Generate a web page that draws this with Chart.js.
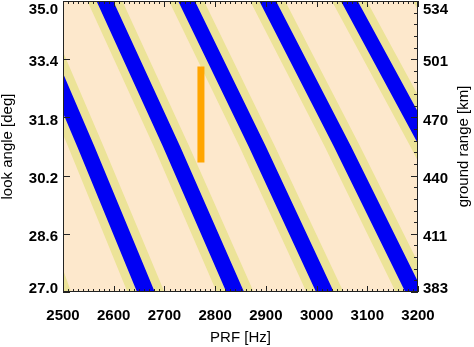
<!DOCTYPE html>
<html>
<head>
<meta charset="utf-8">
<script src="https://cdn.jsdelivr.net/npm/chart.js@4.4.1/dist/chart.umd.min.js"></script>
<style>
  html,body{margin:0;padding:0;background:#fff;}
</style>
</head>
<body>
<canvas id="c" width="474" height="347"></canvas>
<script>
// axis ticks
const X_TICKS=[2500,2600,2700,2800,2900,3000,3100,3200];
const ANGLE_TICKS=[27.0,28.6,30.2,31.8,33.4,35.0];
const RANGE_LABELS=['383','411','440','470','501','534'];

const EDGE_ANGLES=[35,31,27];
// PRF [Hz] of each band edge at 35 / 31 / 27 deg, one row per band
const GUARD_LEFT=[[2228,2342,2443],[2388,2510,2627],[2548,2679,2803],[2709,2848,2980],[2869,3016,3156],[3030,3185,3333],[3190,3353,3509]];
const BLUE_LEFT =[[2246,2360,2462],[2406,2528,2646],[2566,2697,2822],[2727,2866,2999],[2887,3034,3175],[3048,3203,3352],[3208,3371,3528]];
const BLUE_RIGHT=[[2279,2394,2497],[2439,2562,2681],[2599,2731,2857],[2760,2900,3034],[2920,3068,3210],[3081,3237,3387],[3241,3405,3563]];
const GUARD_RIGHT=[[2297,2412,2516],[2457,2580,2700],[2617,2749,2876],[2778,2918,3053],[2938,3086,3229],[3099,3255,3406],[3259,3423,3582]];

// selected PRF / look angle span
const MARK_PRF=[2772,2772];
const MARK_ANGLE=[33.2,30.56];

const PEACH='#fde8cc', KHAKI='#ece398', BLUE='#0000f4', ORANGE='#ffa500';
const FONT='"Liberation Sans", Arial, Helvetica, sans-serif';
Chart.defaults.font.family=FONT;
Chart.defaults.color='#000';

function poly(l,r){
  const down=EDGE_ANGLES.map((a,i)=>({x:l[i],y:a}));
  const up=EDGE_ANGLES.map((a,i)=>({x:r[i],y:a})).reverse();
  return down.concat(up);
}
function shiftLabel(t,i,n){
  if(i===n-1)return['','','',t];
  if(i===0)return[t,''];
  return['',t];
}

const datasets=[];
datasets.push({data:MARK_PRF.map((p,i)=>({x:p,y:MARK_ANGLE[i]})),borderColor:ORANGE,borderWidth:7,borderCapStyle:'butt',pointRadius:0,fill:false,order:0});
BLUE_LEFT.forEach((b,i)=>datasets.push({data:poly(b,BLUE_RIGHT[i]),backgroundColor:BLUE,borderWidth:0,pointRadius:0,fill:'shape',order:1}));
GUARD_LEFT.forEach((g,i)=>datasets.push({data:poly(g,GUARD_RIGHT[i]),backgroundColor:KHAKI,borderWidth:0,pointRadius:0,fill:'shape',order:2}));

const plotBg={id:'plotBg',beforeDatasetsDraw(chart){
  const {ctx,chartArea:a}=chart;
  ctx.save();ctx.fillStyle=PEACH;ctx.fillRect(a.left,a.top,a.right-a.left,a.bottom-a.top);ctx.restore();
}};

const frame={id:'frame',afterDatasetsDraw(chart){
  const {ctx,chartArea:a,scales:{x,y}}=chart;
  ctx.save();ctx.strokeStyle='#222';ctx.lineWidth=1;ctx.beginPath();
  for(let v=X_TICKS[0];v<=X_TICKS[X_TICKS.length-1];v+=10){
    const px=Math.round(x.getPixelForValue(v))+0.5;
    const len=(v%100===0)?6:3;
    ctx.moveTo(px,a.bottom);ctx.lineTo(px,a.bottom-len);
    ctx.moveTo(px,a.top);ctx.lineTo(px,a.top+len);
  }
  ANGLE_TICKS.forEach(v=>{
    const py=Math.round(y.getPixelForValue(v))+0.5;
    ctx.moveTo(a.left,py);ctx.lineTo(a.left+7,py);
    ctx.moveTo(a.right,py);ctx.lineTo(a.right-7,py);
  });
  for(let i=0;i<ANGLE_TICKS.length-1;i++){
    const st=(ANGLE_TICKS[i+1]-ANGLE_TICKS[i])/5;
    for(let k=1;k<5;k++){
      const py=Math.round(y.getPixelForValue(ANGLE_TICKS[i]+k*st))+0.5;
      ctx.moveTo(a.right,py);ctx.lineTo(a.right-4,py);
    }
  }
  ctx.stroke();
  ctx.strokeRect(a.left+0.5,a.top+0.5,a.right-a.left-1,a.bottom-a.top-1);
  // right axis title, reading bottom to top
  ctx.fillStyle='#000';ctx.font='15px '+FONT;ctx.textAlign='center';ctx.textBaseline='middle';
  ctx.translate(464,(a.top+a.bottom)/2);ctx.rotate(-Math.PI/2);
  ctx.fillText('ground range [km]',0,0);
  ctx.restore();
}};

const tickFont={size:15,weight:'bold',lineHeight:0.4};
new Chart(document.getElementById('c'),{
  type:'line',
  data:{datasets},
  options:{
    responsive:false,animation:false,
    layout:{padding:{top:1,left:0,right:0,bottom:0}},
    plugins:{legend:{display:false},tooltip:{enabled:false}},
    scales:{
      x:{type:'linear',position:'bottom',min:2500,max:3200,
        afterBuildTicks:s=>{s.ticks=X_TICKS.map(v=>({value:v}));},
        afterFit:s=>{s.height=55;},
        grid:{display:false,drawTicks:false},border:{display:false},
        ticks:{font:{size:15,weight:'bold'},padding:15,maxRotation:0,autoSkip:false,callback:v=>String(v)},
        title:{display:true,text:'PRF [Hz]',font:{size:15},padding:0}},
      y:{type:'linear',position:'left',min:27,max:35,
        afterBuildTicks:s=>{s.ticks=ANGLE_TICKS.map(v=>({value:v}));},
        afterFit:s=>{s.width=63;s.paddingTop=0;s.paddingBottom=0;},
        grid:{display:false,drawTicks:false},border:{display:false},
        ticks:{font:tickFont,padding:5,autoSkip:false,callback:(v,i)=>shiftLabel(v.toFixed(1),i,ANGLE_TICKS.length)},
        title:{display:true,text:'look angle [deg]',font:{size:15,lineHeight:1},padding:0}},
      y2:{type:'linear',position:'right',min:27,max:35,
        afterBuildTicks:s=>{s.ticks=ANGLE_TICKS.map(v=>({value:v}));},
        afterFit:s=>{s.width=56;s.paddingTop=0;s.paddingBottom=0;},
        grid:{display:false,drawTicks:false},border:{display:false},
        ticks:{font:tickFont,padding:5,autoSkip:false,callback:(v,i)=>shiftLabel(RANGE_LABELS[i],i,RANGE_LABELS.length)}}
    }
  },
  plugins:[plotBg,frame]
});
</script>
</body>
</html>
